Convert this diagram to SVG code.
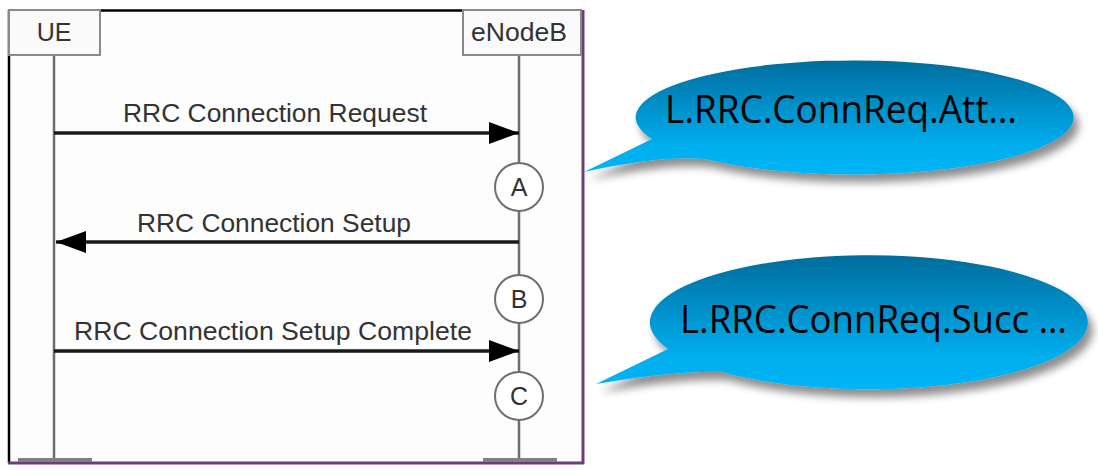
<svg xmlns="http://www.w3.org/2000/svg" width="1098" height="476" viewBox="0 0 1098 476">
<defs>
<style>
.lbl{font-family:"Liberation Sans",Arial,sans-serif;font-size:25px;fill:#333}
.hdr{font-family:"Liberation Sans",Arial,sans-serif;font-size:25px;fill:#333}
.box{fill:#fafafa;stroke:#8a8a8a;stroke-width:2}
.life{stroke:#6e6e6e;stroke-width:2.5}
.msg{stroke:#1a1a1a;stroke-width:3.5;fill:none}
.mark{fill:#fff;stroke:#6e6e6e;stroke-width:2}
.mtxt{font-family:"Liberation Sans",Arial,sans-serif;font-size:25px;fill:#333;text-anchor:middle}
.bar{fill:#808080}
.ctxt{font-family:"Open Sans","Noto Sans",sans-serif;font-size:38px;fill:#000}
</style>
<marker id="ah" markerWidth="30" markerHeight="22" refX="30" refY="11" orient="auto" markerUnits="userSpaceOnUse">
<path d="M0,0 L30,11 L0,22 Z" fill="#000"/>
</marker>
<linearGradient id="cg" x1="0" y1="0" x2="0" y2="1">
<stop offset="0" stop-color="#006c9c"/>
<stop offset="0.45" stop-color="#0094ce"/>
<stop offset="0.75" stop-color="#00aeee"/>
<stop offset="1" stop-color="#00b5f6"/>
</linearGradient>
<filter id="sh" x="-10%" y="-20%" width="130%" height="160%">
<feGaussianBlur in="SourceAlpha" stdDeviation="4"/>
<feOffset dx="5" dy="8" result="b"/>
<feComponentTransfer><feFuncA type="linear" slope="0.45"/></feComponentTransfer>
<feMerge><feMergeNode/><feMergeNode in="SourceGraphic"/></feMerge>
</filter>
</defs>
<rect x="0" y="0" width="1098" height="476" fill="#fff"/>
<g id="frame">
<rect x="9" y="10" width="574" height="453" fill="#fdfdfd"/>
<line x1="9" y1="10" x2="9" y2="463" stroke="#000" stroke-width="2.5"/>
<line x1="9" y1="10.5" x2="463" y2="10.5" stroke="#000" stroke-width="2.5"/>
<line x1="583" y1="10" x2="583" y2="464" stroke="#6a3f78" stroke-width="3"/>
<line x1="8" y1="463" x2="584" y2="463" stroke="#6a3f78" stroke-width="3"/>
</g>
<g id="ue">
<line class="life" x1="54" y1="55" x2="54" y2="461"/>
<rect class="box" x="9" y="10" width="91" height="45"/>
<text class="hdr" x="54" y="41" text-anchor="middle">UE</text>
<rect class="bar" x="18" y="458" width="74" height="4"/>
</g>
<g id="enodeb">
<line class="life" x1="519" y1="55" x2="519" y2="461"/>
<rect class="box" x="463" y="10" width="118" height="45"/>
<text class="hdr" x="519" y="41" text-anchor="middle" textLength="96" lengthAdjust="spacingAndGlyphs">eNodeB</text>
<rect class="bar" x="483" y="458" width="74" height="4"/>
</g>
<g id="connectors">
<line class="msg" x1="54" y1="133" x2="519" y2="133" marker-end="url(#ah)"/>
<line class="msg" x1="519" y1="242" x2="56" y2="242" marker-end="url(#ah)"/>
<line class="msg" x1="54" y1="351" x2="519" y2="351" marker-end="url(#ah)"/>
<text class="lbl" x="123" y="122" textLength="304" lengthAdjust="spacingAndGlyphs">RRC Connection Request</text>
<text class="lbl" x="137" y="232" textLength="274" lengthAdjust="spacingAndGlyphs">RRC Connection Setup</text>
<text class="lbl" x="74" y="340" textLength="398" lengthAdjust="spacingAndGlyphs">RRC Connection Setup Complete</text>
</g>
<g id="markA">
<circle class="mark" cx="519" cy="187" r="24"/>
<text class="mtxt" x="519" y="196">A</text>
</g>
<g id="markB">
<circle class="mark" cx="519" cy="299" r="24"/>
<text class="mtxt" x="519" y="308">B</text>
</g>
<g id="markC">
<circle class="mark" cx="519" cy="396" r="24"/>
<text class="mtxt" x="519" y="405">C</text>
</g>
<g id="callout1">
<path filter="url(#sh)" fill="url(#cg)" d="M652,139 A219,57 0 1 1 705,159 Q660,155 584,172 Z"/>
<text class="ctxt" x="665" y="123" textLength="352" lengthAdjust="spacingAndGlyphs">L.RRC.ConnReq.Att…</text>
</g>
<g id="callout2">
<path filter="url(#sh)" fill="url(#cg)" d="M668,349 A219,67 0 1 1 722,372 Q680,370 596,384 Z"/>
<text class="ctxt" x="680" y="333" textLength="387" lengthAdjust="spacingAndGlyphs">L.RRC.ConnReq.Succ …</text>
</g>
</svg>
